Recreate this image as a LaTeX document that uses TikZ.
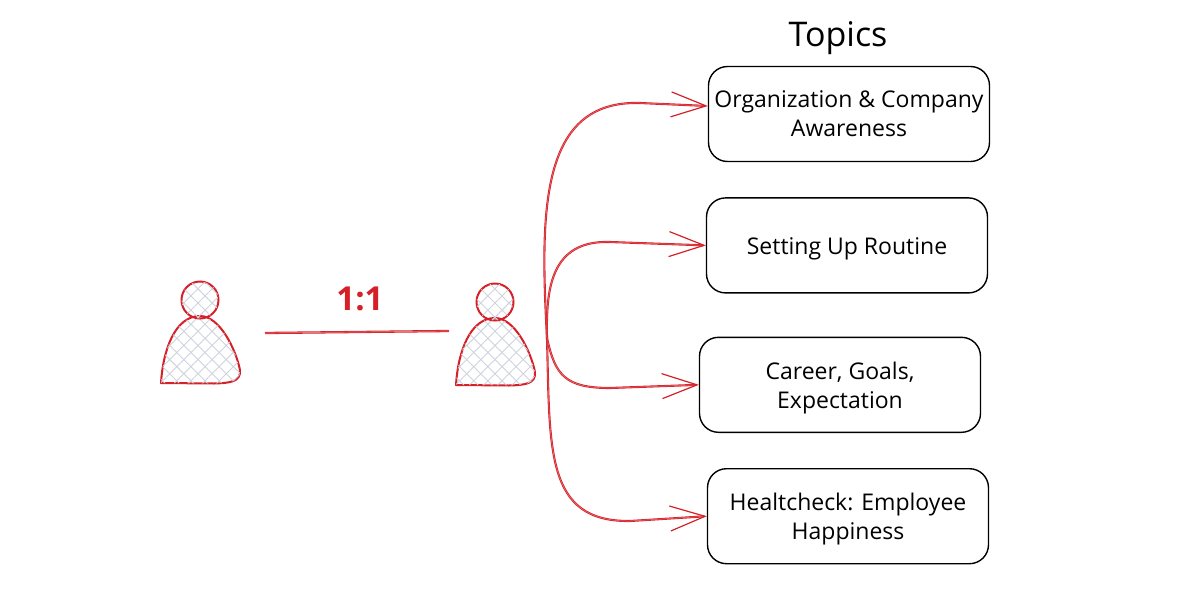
\documentclass[tikz,border=0pt]{standalone}
\usepackage{fontspec}
\setmainfont{Open Sans}
\usetikzlibrary{arrows.meta,positioning,patterns.meta}
\definecolor{sketchred}{RGB}{214, 32, 39}
\definecolor{hatchgray}{RGB}{205, 212, 222}
\tikzset{
  hatchfill/.style={postaction={pattern={Lines[angle=45,distance=10pt,line width=0.9pt]},pattern color=hatchgray},
                    postaction={pattern={Lines[angle=-45,distance=10pt,line width=0.9pt]},pattern color=hatchgray}},
  head/.style={circle, draw=sketchred, line width=2pt, minimum size=37pt, inner sep=0pt, hatchfill},
  body/.style={draw=sketchred, line width=2pt, line join=round, hatchfill},
  topic/.style={draw=black, line width=1.4pt, rounded corners=19pt, minimum width=281pt, minimum height=95pt, align=center, font=\fontsize{23}{29}\selectfont},
  textonly/.style={draw=none, fill=none, text centered},
  link/.style={draw=sketchred, line width=0.8pt, double=sketchred!60, double distance=0.7pt},
  redge/.style={draw=sketchred, line width=0.8pt, double=sketchred!60, double distance=0.5pt, -{Straight Barb[length=35pt,width=25pt,line width=1.2pt]}}
}
\newcommand{\personbody}[1]{\begin{scope}[shift={(#1)}]
  \path[body] (-39,-83) .. controls (-37,-50) and (-25,-16) .. (0,-16) .. controls (20,-16) and (36,-50) .. (40,-70) .. controls (41,-82) and (30,-83) .. (14,-83.5) -- cycle;
\end{scope}}
\newcommand{\lowered}{\rule{0pt}{23pt}}
\begin{document}
\begin{tikzpicture}[x=1pt,y=1pt]
\useasboundingbox (0,0) rectangle (1200,-600);

% people
\coordinate (mentorpos) at (200,-300);
\coordinate (menteepos) at (495,-302);
\personbody{mentorpos}
\personbody{menteepos}
\node[head] (mentor) at (mentorpos) {};
\node[head] (mentee) at (menteepos) {};
\coordinate (linkstart) at (265,-333);
\coordinate (linkend) at (449,-331);
\node[textonly, text=sketchred, font=\fontsize{33}{33}\selectfont\bfseries] (ratio) at (360,-299) {1:1};

% topic boxes
\node[topic] (org) at (849,-114) {Organization \& Company\\Awareness};
\node[topic, below=35pt of org, xshift=-2pt] (routine) {\lowered Setting Up Routine};
\node[topic, below=43pt of routine, xshift=-7pt] (career) {\lowered Career, Goals,\\Expectation};
\node[topic, below=35pt of career, xshift=8pt] (health) {\lowered Healtcheck: Employee\\Happiness};
\node[textonly, above=8pt of org, xshift=-11pt, font=\fontsize{34}{34}\selectfont] (topics) {Topics};
\coordinate (fork) at (547,-338);

% edges
\path[link] (linkstart) -- (linkend);
\path[redge] (fork) .. controls (540,-210) and (540,-100) .. (640,-103) -- ([yshift=8pt]org.west);
\path[redge] (fork) .. controls (546,-290) and (550,-240) .. (610,-242) -- (routine.west);
\path[redge] (fork) .. controls (555,-375) and (565,-388) .. (610,-388) -- (career.west);
\path[redge] (fork) .. controls (550,-450) and (545,-522) .. (630,-521) -- (health.west);

\end{tikzpicture}
\end{document}
